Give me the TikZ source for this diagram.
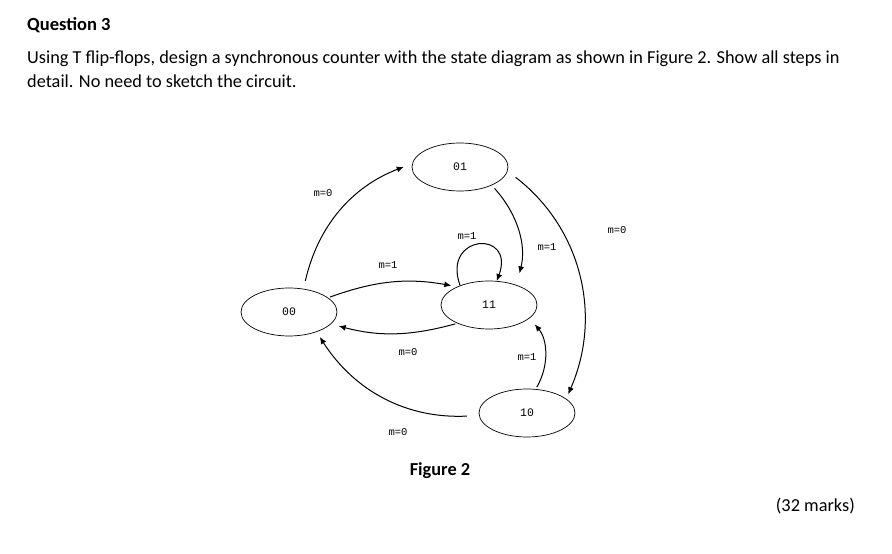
\documentclass[tikz,border=0pt]{standalone}
\usepackage{fontspec}
\setmainfont{Carlito}
\newfontfamily\monof{Liberation Mono}
\usetikzlibrary{shapes.geometric,arrows.meta}
\begin{document}
\begin{tikzpicture}[x=1pt,y=1pt,
  st/.style={draw,ellipse,minimum width=96pt,minimum height=48pt,inner sep=0pt,line width=0.7pt,font=\monof\fontsize{11.5}{13}\selectfont},
  lab/.style={font=\monof\fontsize{10.5}{12}\selectfont},
  arr/.style={-{Latex[length=7pt,width=6pt]},line width=1pt},
  txt/.style={anchor=west,inner sep=0pt,font=\fontsize{18.3}{22}\selectfont}]
\useasboundingbox (0,0) rectangle (892,554);
\node[txt,font=\bfseries\fontsize{18.5}{22}\selectfont] (q) at (27,529) {Question 3};
\node[txt] (l1) at (27,495) {Using T flip-flops, design a synchronous counter with the state diagram as shown in Figure 2. Show all steps in};
\node[txt] (l2) at (27,473) {detail. No need to sketch the circuit.};
\node[inner sep=0pt,font=\bfseries\fontsize{18.3}{22}\selectfont] (fig) at (440,83) {Figure 2};
\node[inner sep=0pt,anchor=east,font=\fontsize{18.3}{22}\selectfont] (mk) at (855,48) {(32 marks)};

\node[st] (s01) at (460,387) {01};
\node[st] (s00) at (289,242) {00};
\node[st] (s11) at (489,249) {11};
\node[st] (s10) at (527,141) {10};

\draw[arr,shorten <=8pt,shorten >=9pt] (s00.58) to[bend left=28] (s01.176);
\draw[arr,shorten <=10pt,shorten >=5pt] (s01.-5) to[bend left=38] (s10.20);
\draw[arr,shorten <=4pt,shorten >=12pt] (s01.-30) to[bend left=28] (s11.36);
\draw[arr] (s11.146) .. controls +(110:55) and +(70:55) .. (s11.72);
\draw[arr,shorten <=2pt,shorten >=6pt] (s00.20) to[bend left=15] (s11.150);
\draw[arr,shorten <=2pt,shorten >=8pt] (s11.210) to[bend left=15] (s00.-16);
\draw[arr,shorten <=2pt,shorten >=8pt] (s10.70) to[bend right=35] (s11.-18);
\draw[arr,shorten <=12pt,shorten >=6pt] (s10.183) to[bend left=30] (s00.-36);

\node[lab] (a) at (323,361) {m=0};
\node[lab] (b) at (617,324) {m=0};
\node[lab] (c) at (547,307) {m=1};
\node[lab] (d) at (467,318) {m=1};
\node[lab] (e) at (388,289) {m=1};
\node[lab] (f) at (408,202) {m=0};
\node[lab] (g) at (527,197) {m=1};
\node[lab] (h) at (398,122) {m=0};
\end{tikzpicture}
\end{document}
